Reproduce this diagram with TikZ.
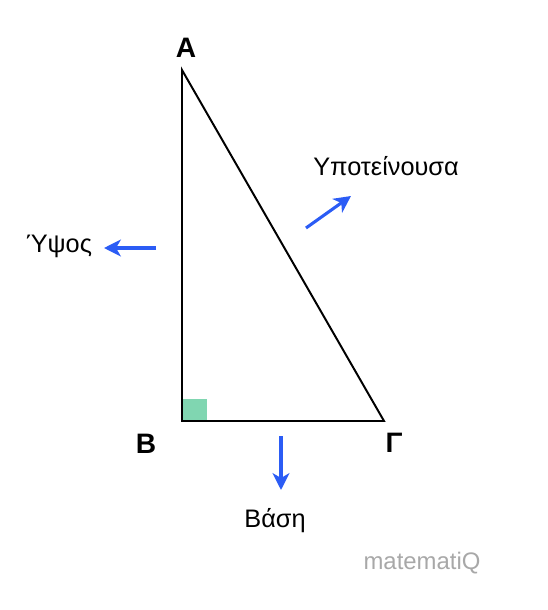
\documentclass[tikz,border=0pt]{standalone}
\usepackage{fontspec}
\setmainfont{Liberation Sans}
\usetikzlibrary{arrows.meta}
\definecolor{sideblue}{HTML}{2B5CF5}
\definecolor{rightgreen}{HTML}{80D6B1}
\definecolor{markgray}{HTML}{A8A8A8}
\tikzset{
  vertex/.style = {font=\fontsize{20}{24}\selectfont\bfseries, inner sep=0pt},
  sidename/.style = {font=\fontsize{18}{22}\selectfont, inner sep=0pt},
  pointer/.style = {sideblue, line width=2.2pt, -{Stealth[length=12pt, width=12pt, inset=3.5pt]}}
}
\begin{document}
\begin{tikzpicture}[x=0.025cm, y=-0.025cm]
\useasboundingbox (0,0) rectangle (547,610);

% triangle
\coordinate (a) at (182,70);
\coordinate (b) at (182,421);
\coordinate (g) at (384,421);
\fill [rightgreen] (b) rectangle (207,399);
\draw [line width = 1.4pt, line join = miter] (a) -- (b) -- (g) -- cycle;

\node [vertex] (la) at (186,48) {A};
\node [vertex] (lb) at (146,444) {B};
\node [vertex] (lg) at (394,443) {Γ};

% side names
\node [sidename] (v1) at (59,246) {Ύψος};
\node [sidename] (v2) at (386,166) {Υποτείνουσα};
\node [sidename] (v3) at (275,521) {Βάση};
\node [sidename, markgray, font=\fontsize{17}{20}\selectfont] (v4) at (422,563) {matematiQ};

\coordinate (p1) at (156,248);
\coordinate (q1) at (104,248);
\coordinate (p2) at (306,228);
\coordinate (q2) at (351,196);
\coordinate (p3) at (281,436);
\coordinate (q3) at (281,490);
\draw [pointer] (p1) -- (q1);
\draw [pointer] (p2) -- (q2);
\draw [pointer] (p3) -- (q3);
\end{tikzpicture}
\end{document}
